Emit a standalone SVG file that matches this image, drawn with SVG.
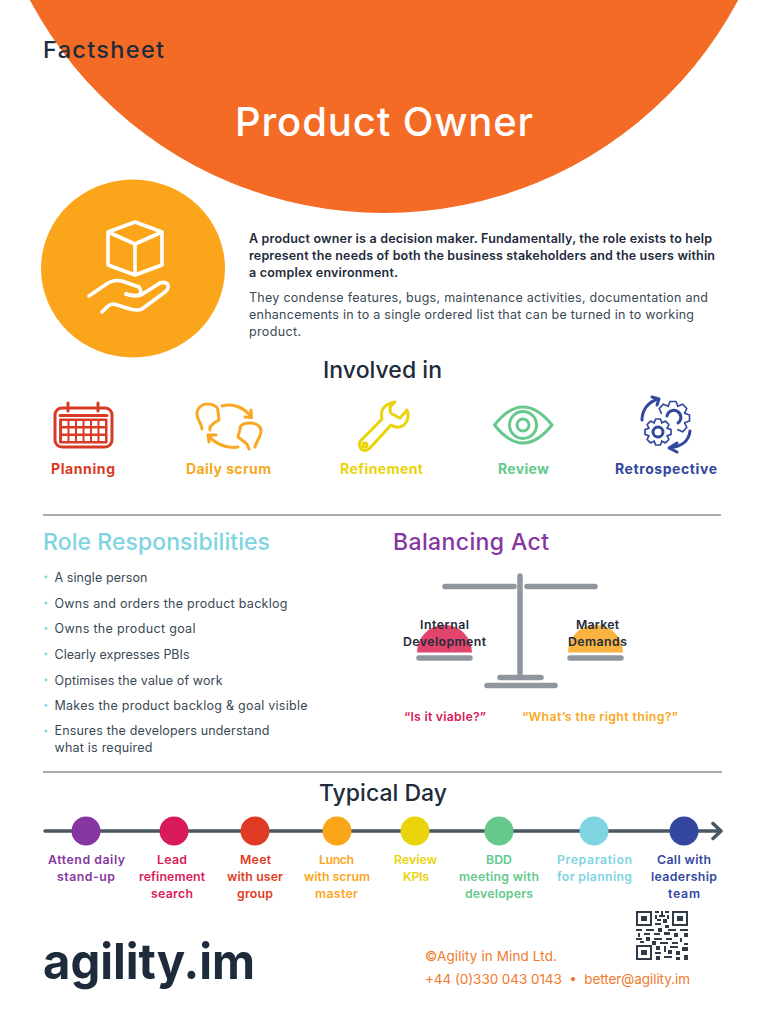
<svg xmlns="http://www.w3.org/2000/svg" width="768" height="1024" viewBox="0 0 768 1024">
<style>
text{font-family:"Inter","Liberation Sans",sans-serif;fill:#1e2b3a}
.b{font-weight:600}
.h{font-size:23px;font-weight:500}
.p{font-size:12.5px}
.g{fill:#394955}
.l{font-size:14px;font-weight:700;text-anchor:middle}
.t{font-size:12.3px;font-weight:600;text-anchor:middle}
.ic{fill:none;stroke-width:3;stroke-linecap:round;stroke-linejoin:round}
.bar{stroke:#8f969e;stroke-width:5.5;stroke-linecap:round;fill:none}
.rule{stroke:#8a9097;stroke-width:1.6}
.tp{fill:#394955;font-size:12.5px}
.dot{fill:#7fd4e2}
</style>
<defs>
<path id="tooth" d="M-3.8 -9.2 L-2.4 -13 H2.4 L3.8 -9.2" fill="none" stroke="#33479f" stroke-linejoin="round" stroke-linecap="round"/>
</defs>
<g id="header">
<circle cx="384" cy="-188" r="401" fill="#f46b25"/>
<text x="43" y="58" font-size="23.500" font-weight="500" textLength="121">Factsheet</text>
<text x="235" y="136" font-size="40" font-weight="500" style="fill:#fff" textLength="298">Product Owner</text>
</g>
<g id="hero-icon">
<ellipse cx="133" cy="268.500" rx="92" ry="89" fill="#fba61a"/>
<g fill="none" stroke="#fff" stroke-width="3.600" stroke-linecap="round" stroke-linejoin="round">
<path d="M135 222 L162 232 V265 L135 275 L108 265 V232 Z M108 232 L135 244 L162 232 M135 244 V275"/>
<path d="M89 296 L105 285 Q113 279 122 281 L139 287 Q142 291 140 294 Q137 297 126 294"/>
<path d="M126 294 Q135 297 141 295 L160 283 Q166 281 168 285 Q169 289 165 292 L142 309 Q138 311 130 309 L114 304 Q110 304 107 307 L102 312"/>
</g>
</g>
<g id="intro">
<text class="p b" x="249" y="243" textLength="463">A product owner is a decision maker. Fundamentally, the role exists to help</text>
<text class="p b" x="249" y="260" textLength="466">represent the needs of both the business stakeholders and the users within</text>
<text class="p b" x="249" y="277" textLength="149">a complex environment.</text>
<text class="p g" x="249" y="302" textLength="459">They condense features, bugs, maintenance activities, documentation and</text>
<text class="p g" x="249" y="319" textLength="445">enhancements in to a single ordered list that can be turned in to working</text>
<text class="p g" x="249" y="336" textLength="52">product.</text>
</g>
<text id="involved-title" class="h" x="323" y="378" textLength="119">Involved in</text>
<g id="planning">
<g class="ic" stroke="#d83a26">
<rect x="55" y="408" width="57" height="39" rx="7"/>
<path d="M68 403 V411 M98 403 V411 M60 415.500 H107"/>
<rect x="60" y="419" width="47" height="24" fill="#d83a26" stroke-width="1"/>
</g>
<path d="M62 421h5.500v5h-5.500zM69.500 421h5.500v5h-5.500zM77 421h5.500v5h-5.500zM84.500 421h5.500v5h-5.500zM92 421h5.500v5h-5.500zM99.500 421h5.500v5h-5.500zM62 428.500h5.500v5h-5.500zM69.500 428.500h5.500v5h-5.500zM77 428.500h5.500v5h-5.500zM84.500 428.500h5.500v5h-5.500zM92 428.500h5.500v5h-5.500zM99.500 428.500h5.500v5h-5.500zM62 436h5.500v5h-5.500zM69.500 436h5.500v5h-5.500zM77 436h5.500v5h-5.500zM84.500 436h5.500v5h-5.500zM92 436h5.500v5h-5.500zM99.500 436h5.500v5h-5.500z" fill="#fff"/>
<text class="l" x="83" y="474" style="fill:#d83a26" textLength="64">Planning</text>
</g>
<g id="daily-scrum">
<g class="ic" stroke="#f8a823" stroke-width="2.300">
<path d="M202 429 C202 423 197 421 197 414 C197 408 202 404 207 404 C214 404 218 407 218 411 L219 420 L214 423 L210 427 L210 430"/>
<path d="M255 447 C256 441 261 437 261 431 C261 426 256 423 250 423 C244 423 240 425 240 429 L238 437 L247 444 L249 449"/>
<path d="M222 406 C234 403 245 408 251 417 M251 410 L251.500 417.500 L245 417"/>
<path d="M238 447 C226 449 214 443 208 435 M209 442 L208 435 L216 435"/>
</g>
<text class="l" x="228.500" y="474" style="fill:#f8a823" textLength="85">Daily scrum</text>
</g>
<g id="refinement">
<g class="ic" stroke="#e9d40b" stroke-width="2">
<path d="M360.500 441 L382 419 C380 410 384 404 395 402 L390 407 Q390 413 392 414 L400 418 L407 410 C410 418 406 426 399 427 C395 428 393 426 391 425 L370 448 C366 452 362 451 360 447 C359 445 359 443 360.500 441 Z"/>
<circle cx="365" cy="445" r="2"/>
</g>
<text class="l" x="381.500" y="474" style="fill:#e9d40b" textLength="83">Refinement</text>
</g>
<g id="review">
<g class="ic" stroke="#64c98b" stroke-width="3">
<path d="M494.500 425 Q523 389 552 425 Q523 461 494.500 425 Z"/>
<circle cx="523" cy="425" r="13.500"/>
<circle cx="523" cy="425" r="6"/>
</g>
<text class="l" x="523.500" y="474" style="fill:#64c98b" textLength="51">Review</text>
</g>
<g id="retrospective">
<g class="ic" stroke="#33479f" stroke-width="1.700">
<path d="M642 420 C642 410 648 402 658 399 M652 397 L659 399 L657 405"/>
<path d="M690 431 C689 441 681 447 669 448 M677 443 L669 448 L677 452"/>
<path d="M667 416 a7 7 0 1 1 11 7"/>
<circle cx="658" cy="432" r="5"/>
</g>
<g stroke-width="1.700">
<use href="#tooth" transform="translate(658,432)"/>
<use href="#tooth" transform="translate(658,432) rotate(45)"/>
<use href="#tooth" transform="translate(658,432) rotate(90)"/>
<use href="#tooth" transform="translate(658,432) rotate(135)"/>
<use href="#tooth" transform="translate(658,432) rotate(180)"/>
<use href="#tooth" transform="translate(658,432) rotate(225)"/>
<use href="#tooth" transform="translate(658,432) rotate(270)"/>
<use href="#tooth" transform="translate(658,432) rotate(315)"/>
</g>
<g stroke-width="1.300">
<use href="#tooth" transform="translate(673,418) scale(1.270)"/>
<use href="#tooth" transform="translate(673,418) rotate(45) scale(1.270)"/>
<use href="#tooth" transform="translate(673,418) rotate(90) scale(1.270)"/>
<use href="#tooth" transform="translate(673,418) rotate(135) scale(1.270)"/>
<use href="#tooth" transform="translate(673,418) rotate(315) scale(1.270)"/>
</g>
<text class="l" x="666" y="474" style="fill:#33479f" textLength="102">Retrospective</text>
</g>
<path class="rule" d="M43 515 H721"/>
<g id="responsibilities">
<text class="h" x="43" y="550" style="fill:#7fd4e2" textLength="227">Role Responsibilities</text>
<circle class="dot" cx="46" cy="577" r="1.400"/><text class="tp" x="54.500" y="582" textLength="93">A single person</text>
<circle class="dot" cx="46" cy="603" r="1.400"/><text class="tp" x="54.500" y="608" textLength="233">Owns and orders the product backlog</text>
<circle class="dot" cx="46" cy="628.500" r="1.400"/><text class="tp" x="54.500" y="633" textLength="141">Owns the product goal</text>
<circle class="dot" cx="46" cy="654" r="1.400"/><text class="tp" x="54.500" y="659" textLength="135">Clearly expresses PBIs</text>
<circle class="dot" cx="46" cy="680" r="1.400"/><text class="tp" x="54.500" y="685" textLength="168">Optimises the value of work</text>
<circle class="dot" cx="46" cy="705.500" r="1.400"/><text class="tp" x="54.500" y="710" textLength="253">Makes the product backlog &amp; goal visible</text>
<circle class="dot" cx="46" cy="731" r="1.400"/><text class="tp" x="54.500" y="735" textLength="215">Ensures the developers understand</text>
<text class="tp" x="54.500" y="752" textLength="98">what is required</text>
</g>
<g id="balancing-act">
<text class="h" x="393" y="550" style="fill:#8636a0" textLength="156">Balancing Act</text>
<path class="bar" d="M445 586.500 H514 M527 586.500 H595 M520 576 V676 M500 677.500 H541 M487 685.500 H555 M419 658 H470 M570 658 H621"/>
<path d="M417 652.500 A27.500 27.500 0 0 1 472 652.500 Z" fill="#e2456b"/>
<path d="M568 652.500 A27.500 27.500 0 0 1 623 652.500 Z" fill="#fab33f"/>
<text class="t" x="444.500" y="629" textLength="49">Internal</text>
<text class="t" x="444.500" y="646" textLength="83">Development</text>
<text class="t" x="597.500" y="629" textLength="43">Market</text>
<text class="t" x="597.500" y="646" textLength="59">Demands</text>
<text class="t" x="445" y="721" style="fill:#d81b58" textLength="82">“Is it viable?”</text>
<text class="t" x="600" y="721" style="fill:#f8a823" textLength="156">“What’s the right thing?”</text>
</g>
<path class="rule" d="M43 772 H722"/>
<text id="typical-title" class="h" x="319" y="801" textLength="128">Typical Day</text>
<g id="connectors">
<path d="M45 831 H720 M713 823.500 L721 831 L713 838.500" fill="none" stroke="#4a5763" stroke-width="3.500" stroke-linecap="round" stroke-linejoin="round"/>
</g>
<g id="step-1"><circle cx="86" cy="831" r="14.500" fill="#8636a0"/><text class="t" x="86.500" y="864" style="fill:#8636a0" textLength="77">Attend daily</text><text class="t" x="86" y="881" style="fill:#8636a0" textLength="58">stand-up</text></g>
<g id="step-2"><circle cx="174" cy="831" r="14.500" fill="#d81b58"/><text class="t" x="172" y="864" style="fill:#d81b58" textLength="30">Lead</text><text class="t" x="172" y="881" style="fill:#d81b58" textLength="66">refinement</text><text class="t" x="172" y="898" style="fill:#d81b58" textLength="42">search</text></g>
<g id="step-3"><circle cx="255" cy="831" r="14.500" fill="#df3b24"/><text class="t" x="255.500" y="864" style="fill:#df3b24" textLength="31">Meet</text><text class="t" x="255" y="881" style="fill:#df3b24" textLength="56">with user</text><text class="t" x="255" y="898" style="fill:#df3b24" textLength="36">group</text></g>
<g id="step-4"><circle cx="337" cy="831" r="14.500" fill="#fba61a"/><text class="t" x="336.500" y="864" style="fill:#fba61a" textLength="35">Lunch</text><text class="t" x="337" y="881" style="fill:#fba61a" textLength="66">with scrum</text><text class="t" x="336.500" y="898" style="fill:#fba61a" textLength="43">master</text></g>
<g id="step-5"><circle cx="415" cy="831" r="14.500" fill="#e9d40b"/><text class="t" x="415.500" y="864" style="fill:#e9d40b" textLength="43">Review</text><text class="t" x="416" y="881" style="fill:#e9d40b" textLength="26">KPIs</text></g>
<g id="step-6"><circle cx="499" cy="831" r="14.500" fill="#64c98b"/><text class="t" x="499" y="864" style="fill:#64c98b" textLength="26">BDD</text><text class="t" x="499" y="881" style="fill:#64c98b" textLength="80">meeting with</text><text class="t" x="499" y="898" style="fill:#64c98b" textLength="68">developers</text></g>
<g id="step-7"><circle cx="594" cy="831" r="14.500" fill="#7fd4e2"/><text class="t" x="594.500" y="864" style="fill:#7fd4e2" textLength="75">Preparation</text><text class="t" x="594.500" y="881" style="fill:#7fd4e2" textLength="75">for planning</text></g>
<g id="step-8"><circle cx="684" cy="831" r="14.500" fill="#33479f"/><text class="t" x="684" y="864" style="fill:#33479f" textLength="54">Call with</text><text class="t" x="684" y="881" style="fill:#33479f" textLength="66">leadership</text><text class="t" x="684" y="898" style="fill:#33479f" textLength="32">team</text></g>
<g id="footer">
<text x="43" y="979" font-size="49" font-weight="700" textLength="212" lengthAdjust="spacingAndGlyphs">agility.im</text>
<text x="425" y="961" font-size="13.500" style="fill:#f07a2c" textLength="132">©Agility in Mind Ltd.</text>
<text x="425" y="984" font-size="13.500" style="fill:#f07a2c;white-space:pre" textLength="265">+44 (0)330 043 0143  •  better@agility.im</text>
<g id="qr" fill="#2f3b47">
<path fill-rule="evenodd" d="M636 911h16v15h-16zM638 913v11h12v-11zM641 916h6v5h-6zM672 911h16v15h-16zM674 913v11h12v-11zM677 916h6v5h-6zM636 945h16v15h-16zM638 947v11h12v-11zM641 950h6v5h-6z"/>
<path d="M655 911h4v2h-4zM661 911h2v4h-2zM665 911h4v2h-4zM655 915h2v4h-2zM659 915h6v2h-6zM667 915h2v4h-2zM657 919h4v2h-4zM663 919h4v4h-4zM655 923h6v2h-6zM665 925h4v3h-4zM636 929h6v2h-6zM646 929h8v2h-8zM658 928h4v4h-4zM668 929h8v2h-8zM680 929h8v2h-8zM638 933h2v4h-2zM644 933h6v2h-6zM654 933h6v2h-6zM664 932h6v3h-6zM674 933h4v4h-4zM684 933h4v4h-4zM636 938h6v2h-6zM646 937h4v4h-4zM654 938h8v2h-8zM666 938h6v2h-6zM680 938h2v4h-2zM640 941h4v2h-4zM652 941h4v4h-4zM660 942h8v2h-8zM672 942h6v2h-6zM684 943h4v2h-4zM656 946h4v4h-4zM664 946h2v6h-2zM670 946h8v2h-8zM682 947h6v4h-6zM655 952h6v2h-6zM668 950h4v4h-4zM676 951h4v4h-4zM656 956h4v4h-4zM664 956h8v2h-8zM676 957h4v3h-4zM684 955h4v5h-4z"/>
</g>
</g>
</svg>
